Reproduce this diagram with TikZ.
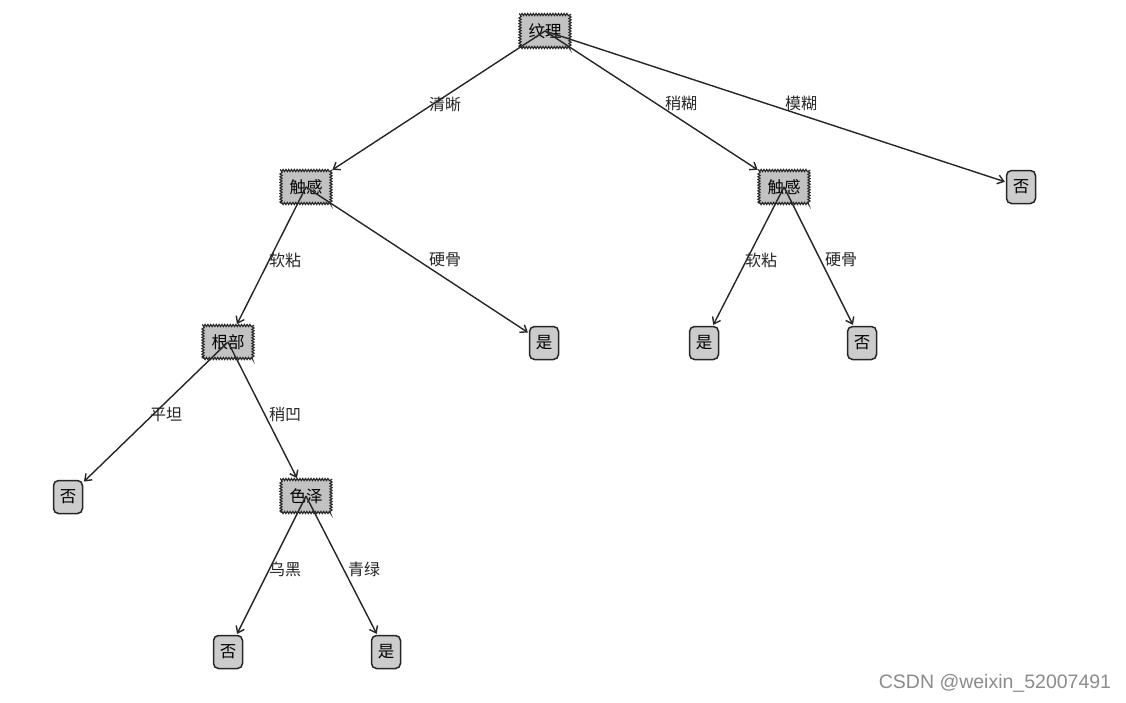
\documentclass[tikz,border=0pt]{standalone}
\usepackage{fontspec}
\newfontfamily\cjk{Noto Sans CJK SC}
\newfontfamily\wm{Liberation Sans}
\usetikzlibrary{decorations.pathmorphing,arrows.meta}
\begin{document}
\begin{tikzpicture}[x=1pt,y=-1pt,
  decision/.style={draw=black!85, line width=1.1pt, fill=black!24, minimum width=50pt, minimum height=33pt, inner sep=0pt,
    decorate, decoration={zigzag, segment length=2.8pt, amplitude=1.1pt}, font=\cjk\fontsize{16.5}{18}\selectfont},
  leaf/.style={draw=black!85, line width=1.5pt, fill=black!20, rounded corners=5pt, minimum width=29pt, minimum height=33pt, inner sep=0pt,
    font=\cjk\fontsize{16.5}{18}\selectfont},
  edge/.style={draw=black!85, line width=1.4pt, -{Straight Barb[length=6pt,width=9pt]}, shorten >=1pt},
  lbl/.style={font=\cjk\fontsize{16}{18}\selectfont, text=black!85, inner sep=0pt}
]
\useasboundingbox (0,0) rectangle (1126,702);
\fill[white] (0,0) rectangle (1126,702);
% nodes
\node[decision] (root) at (545,31) {纹理};
\node[decision] (t1) at (306,187) {触感};
\node[decision] (t2) at (784,187) {触感};
\node[leaf] (n1) at (1021,187) {否};
\node[decision] (g) at (228,342) {根部};
\node[leaf] (y1) at (544,343) {是};
\node[leaf] (y2) at (704,343) {是};
\node[leaf] (n2) at (862,343) {否};
\node[leaf] (n3) at (68,497) {否};
\node[decision] (c) at (306,496) {色泽};
\node[leaf] (n4) at (228,652) {否};
\node[leaf] (y3) at (386,652) {是};
% edges
\draw[edge] (root.center) -- (t1);
\draw[edge] (root.center) -- (t2);
\draw[edge] (root.center) -- (n1);
\draw[edge] (t1.center) -- (g);
\draw[edge] (t1.center) -- (y1);
\draw[edge] (t2.center) -- (y2);
\draw[edge] (t2.center) -- (n2);
\draw[edge] (g.center) -- (n3);
\draw[edge] (g.center) -- (c);
\draw[edge] (c.center) -- (n4);
\draw[edge] (c.center) -- (y3);
% labels
\node[lbl] (l1) at (445,104) {清晰};
\node[lbl] (l2) at (681,104) {稍糊};
\node[lbl] (l3) at (801,104) {模糊};
\node[lbl] (l4) at (285,260) {软粘};
\node[lbl] (l5) at (445,260) {硬骨};
\node[lbl] (l6) at (761,260) {软粘};
\node[lbl] (l7) at (841,260) {硬骨};
\node[lbl] (l8) at (166,414) {平坦};
\node[lbl] (l9) at (285,414) {稍凹};
\node[lbl] (l10) at (285,569) {乌黑};
\node[lbl] (l11) at (364,569) {青绿};
% watermark
\node[font=\wm\fontsize{19.5}{22}\selectfont, text=black!45, inner sep=0pt] (wmk) at (995,683) {CSDN @weixin\_52007491};
\end{tikzpicture}
\end{document}
